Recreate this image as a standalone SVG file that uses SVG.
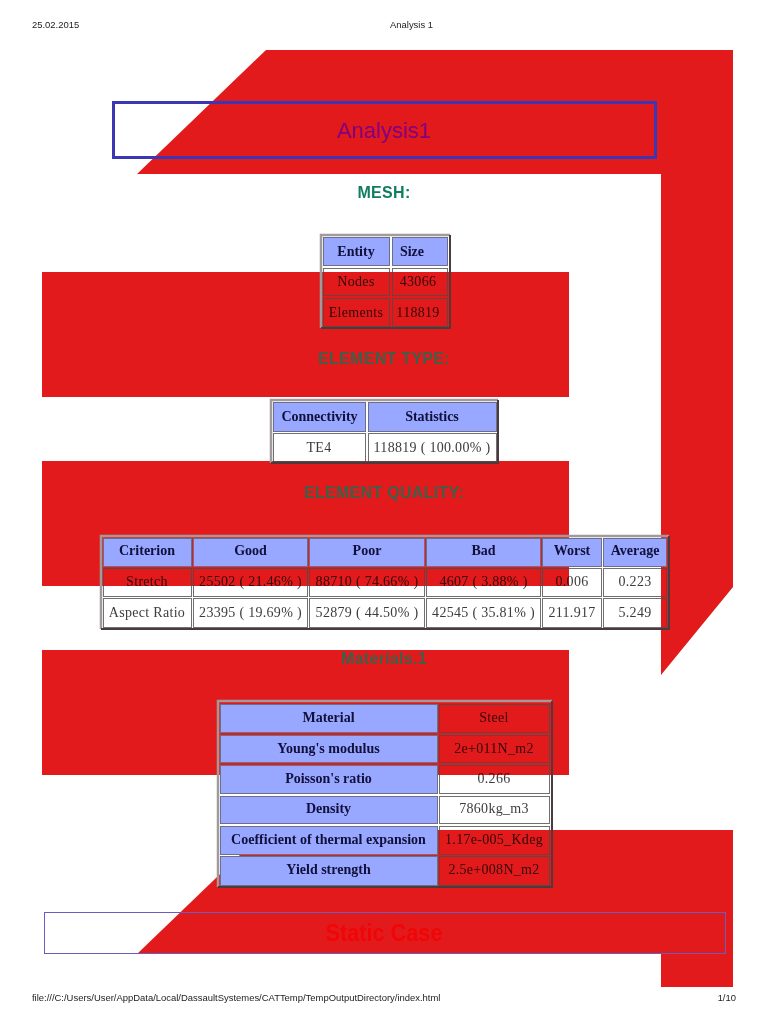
<svg xmlns="http://www.w3.org/2000/svg" width="768" height="1024" viewBox="0 0 768 1024">
<style>
.red{fill:#e31a1c}
.page{font-family:"Liberation Sans",Arial,sans-serif;font-size:9.45px;fill:#222}
.sec{font-family:"Liberation Sans",Arial,sans-serif;font-size:16px;font-weight:bold;text-anchor:middle;letter-spacing:.3px}
.h{fill:#98a7ff;stroke:#6e6e86;stroke-width:1}
.d{fill:none;stroke:#4c4c4c;stroke-opacity:.8;stroke-width:1}
.ot{fill:none;stroke:#a09a9a;stroke-width:2.5}
.ob{fill:none;stroke:#4a3c3e;stroke-width:2}
.th{font-family:"Liberation Serif","Times New Roman",serif;font-size:14px;font-weight:bold;fill:#10103a;text-anchor:middle}
.td{font-family:"Liberation Serif","Times New Roman",serif;font-size:14px;fill:#3c3c3c;text-anchor:middle;mix-blend-mode:multiply;letter-spacing:.3px}
</style>
<g id="background">
<polygon class="red" points="266,50 733,50 733,587 661,675 661,174 137,174"/>
<rect class="red" x="42" y="272" width="527" height="125"/>
<rect class="red" x="42" y="461" width="527" height="125"/>
<rect class="red" x="42" y="650" width="527" height="125"/>
<polygon class="red" points="266,830 733,830 733,987 661,987 661,954 137,954"/>
</g>
<g id="page-header">
<text class="page" x="32" y="28">25.02.2015</text>
<text class="page" x="390" y="28">Analysis 1</text>
</g>
<g id="title">
<rect x="113.500" y="102.500" width="542" height="55" fill="none" stroke="#3c35b4" stroke-width="3"/>
<text x="384" y="138" font-family="Liberation Sans,Arial,sans-serif" font-size="22" fill="#800080" text-anchor="middle">Analysis1</text>
</g>
<text class="sec" x="384" y="198" fill="#0f7d60">MESH:</text>
<g id="table-mesh">
<path class="ot" d="M321,328V235H450"/><path class="ob" d="M321,328H450V235"/>
<rect class="h" x="323.500" y="237.500" width="66" height="28"/><rect class="h" x="392.500" y="237.500" width="55" height="28"/>
<rect class="d" x="323.500" y="268.500" width="66" height="27"/><rect class="d" x="392.500" y="268.500" width="55" height="27"/>
<rect class="d" x="323.500" y="298.500" width="66" height="28"/><rect class="d" x="392.500" y="298.500" width="55" height="28"/>
<text class="th" x="356" y="256">Entity</text><text class="th" x="412" y="256">Size</text>
<text class="td" x="356" y="286">Nodes</text><text class="td" x="418" y="286">43066</text>
<text class="td" x="356" y="317">Elements</text><text class="td" x="418" y="317">118819</text>
</g>
<text class="sec" x="384" y="364" fill="#3f5f4a">ELEMENT TYPE:</text>
<g id="table-element-type">
<path class="ot" d="M271,463V400H498"/><path class="ob" d="M271,463H498V400"/>
<rect class="h" x="273.500" y="402.500" width="92" height="29"/><rect class="h" x="368.500" y="402.500" width="128" height="29"/>
<rect class="d" x="273.500" y="433.500" width="92" height="28"/><rect class="d" x="368.500" y="433.500" width="128" height="28"/>
<text class="th" x="319.500" y="421">Connectivity</text><text class="th" x="432" y="421">Statistics</text>
<text class="td" x="319" y="452">TE4</text><text class="td" x="432" y="452">118819 ( 100.00% )</text>
</g>
<text class="sec" x="384" y="498" fill="#3f5f4a">ELEMENT QUALITY:</text>
<g id="table-element-quality">
<path class="ot" d="M101,629V536H669"/><path class="ob" d="M101,629H669V536"/>
<rect class="h" x="103.500" y="538.500" width="88" height="28"/><rect class="h" x="193.500" y="538.500" width="114" height="28"/><rect class="h" x="309.500" y="538.500" width="115" height="28"/><rect class="h" x="426.500" y="538.500" width="114" height="28"/><rect class="h" x="542.500" y="538.500" width="59" height="28"/><rect class="h" x="603.500" y="538.500" width="63" height="28"/>
<rect class="d" x="103.500" y="568.500" width="88" height="28"/><rect class="d" x="193.500" y="568.500" width="114" height="28"/><rect class="d" x="309.500" y="568.500" width="115" height="28"/><rect class="d" x="426.500" y="568.500" width="114" height="28"/><rect class="d" x="542.500" y="568.500" width="59" height="28"/><rect class="d" x="603.500" y="568.500" width="63" height="28"/>
<rect class="d" x="103.500" y="598.500" width="88" height="29"/><rect class="d" x="193.500" y="598.500" width="114" height="29"/><rect class="d" x="309.500" y="598.500" width="115" height="29"/><rect class="d" x="426.500" y="598.500" width="114" height="29"/><rect class="d" x="542.500" y="598.500" width="59" height="29"/><rect class="d" x="603.500" y="598.500" width="63" height="29"/>
<text class="th" x="147" y="555">Criterion</text><text class="th" x="250.500" y="555">Good</text><text class="th" x="367" y="555">Poor</text><text class="th" x="483.500" y="555">Bad</text><text class="th" x="572" y="555">Worst</text><text class="th" x="635" y="555">Average</text>
<text class="td" x="147" y="586">Stretch</text><text class="td" x="250.500" y="586">25502 ( 21.46% )</text><text class="td" x="367" y="586">88710 ( 74.66% )</text><text class="td" x="483.500" y="586">4607 ( 3.88% )</text><text class="td" x="572" y="586">0.006</text><text class="td" x="635" y="586">0.223</text>
<text class="td" x="147" y="617">Aspect Ratio</text><text class="td" x="250.500" y="617">23395 ( 19.69% )</text><text class="td" x="367" y="617">52879 ( 44.50% )</text><text class="td" x="483.500" y="617">42545 ( 35.81% )</text><text class="td" x="572" y="617">211.917</text><text class="td" x="635" y="617">5.249</text>
</g>
<text class="sec" x="384" y="664" fill="#3f5f4a">Materials.1</text>
<g id="table-materials">
<path class="ot" d="M218,887V701H552"/><path class="ob" d="M218,887H552V701"/>
<rect class="h" x="220.500" y="704.500" width="217" height="28"/><rect class="h" x="220.500" y="735.500" width="217" height="27"/><rect class="h" x="220.500" y="765.500" width="217" height="28"/><rect class="h" x="220.500" y="796.500" width="217" height="27"/><rect class="h" x="220.500" y="826.500" width="217" height="28"/><rect class="h" x="220.500" y="856.500" width="217" height="29"/>
<rect class="d" x="439.500" y="704.500" width="110" height="28"/><rect class="d" x="439.500" y="735.500" width="110" height="27"/><rect class="d" x="439.500" y="765.500" width="110" height="28"/><rect class="d" x="439.500" y="796.500" width="110" height="27"/><rect class="d" x="439.500" y="826.500" width="110" height="28"/><rect class="d" x="439.500" y="856.500" width="110" height="29"/>
<text class="th" x="328.500" y="722">Material</text><text class="th" x="328.500" y="753">Young's modulus</text><text class="th" x="328.500" y="783">Poisson's ratio</text><text class="th" x="328.500" y="813">Density</text><text class="th" x="328.500" y="844">Coefficient of thermal expansion</text><text class="th" x="328.500" y="874">Yield strength</text>
<text class="td" x="494" y="722">Steel</text><text class="td" x="494" y="753">2e+011N_m2</text><text class="td" x="494" y="783">0.266</text><text class="td" x="494" y="813">7860kg_m3</text><text class="td" x="494" y="844">1.17e-005_Kdeg</text><text class="td" x="494" y="874">2.5e+008N_m2</text>
</g>
<g id="static-case">
<rect x="44.500" y="912.500" width="681" height="41" fill="none" stroke="#6a5cc0" stroke-width="1"/>
<text x="384" y="941" font-family="Liberation Sans,Arial,sans-serif" font-size="24" font-weight="bold" fill="#f00608" text-anchor="middle" textLength="117" lengthAdjust="spacingAndGlyphs">Static Case</text>
</g>
<g id="page-footer">
<text class="page" x="32" y="1001">file:///C:/Users/User/AppData/Local/DassaultSystemes/CATTemp/TempOutputDirectory/index.html</text>
<text class="page" x="736" y="1001" text-anchor="end">1/10</text>
</g>
</svg>
